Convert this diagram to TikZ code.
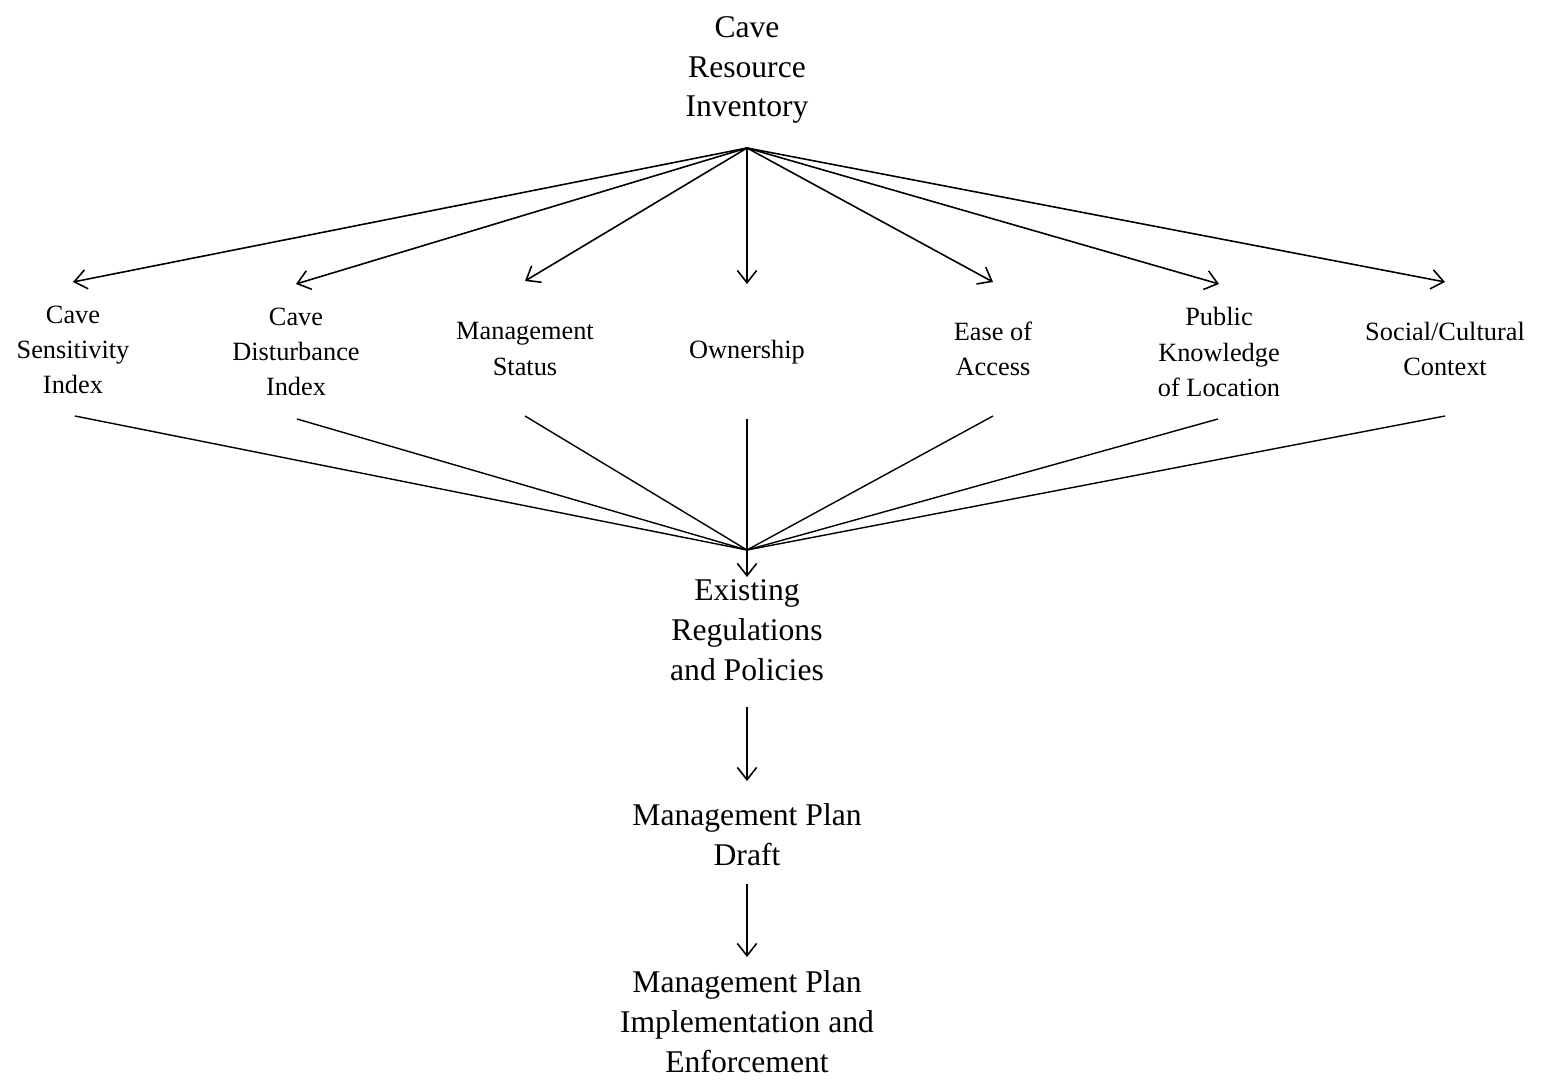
\documentclass[tikz,border=0pt]{standalone}
\usepackage{fontspec}
\setmainfont{Liberation Serif}
\usetikzlibrary{arrows.meta}
\begin{document}
\begin{tikzpicture}[x=0.02cm,y=-0.02cm,
 big/.style={align=center,font=\fontsize{18}{22.7}\selectfont},
 small/.style={align=center,font=\fontsize{15}{20}\selectfont},
 arr/.style={-{Straight Barb[length=7pt,width=11pt]},line width=0.9pt},
 ln/.style={line width=0.8pt}]
\useasboundingbox (0,0) rectangle (1568,1087);
\node[big] (top) at (747,70) {Cave\\Resource\\Inventory};
\coordinate (hub) at (747,148);
\coordinate (low) at (747,550);
\foreach \n/\x/\y/\t/\ty/\b/\by in {
 a/73/350/{Cave\\Sensitivity\\Index}/282/75/416,
 b/296/352/{Cave\\Disturbance\\Index}/284/297/419,
 c/525/349/{Management\\Status}/281/525/416,
 d/747/352/{Ownership}/284/747/419,
 e/993/349/{Ease of\\Access}/282/993/416,
 f/1219/352/{Public\\Knowledge\\of Location}/284/1218/419,
 g/1445/349/{Social/Cultural\\Context}/282/1445/416}{
 \node[small] (\n) at (\x,\y) {\t};
 \coordinate (\n t) at (\x,\ty);
 \coordinate (\n b) at (\b,\by);
 \draw[arr] (hub) -- (\n t);
 \draw[ln] (\n b) -- (low);
}
\node[big] (reg) at (747,630) {Existing\\Regulations\\and Policies};
\node[big] (draft) at (747,835) {Management Plan\\Draft};
\node[big] (impl) at (747,1022) {Management Plan\\Implementation and\\Enforcement};
\coordinate (r1) at (747,577);
\draw[arr] (low) -- (r1);
\coordinate (p1) at (747,707); \coordinate (p2) at (747,781);
\draw[arr] (p1) -- (p2);
\coordinate (q1) at (747,884); \coordinate (q2) at (747,957);
\draw[arr] (q1) -- (q2);
\end{tikzpicture}
\end{document}
